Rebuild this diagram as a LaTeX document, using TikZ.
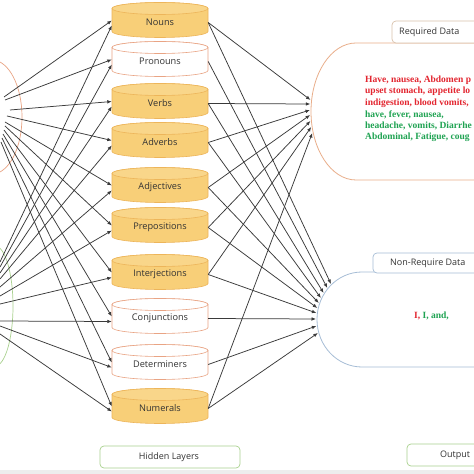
\documentclass[tikz,border=0pt]{standalone}
\usepackage{fontspec}
\newfontfamily\lblfont{Open Sans}
\newfontfamily\datfont{Liberation Serif}
\usetikzlibrary{arrows.meta}
\definecolor{cylfill}{HTML}{F8CF78}
\definecolor{cyltop}{HTML}{F9D68A}
\definecolor{cyledge}{HTML}{EDB55A}
\definecolor{salmon}{HTML}{E9A484}
\definecolor{reqedge}{HTML}{E9AE8A}
\definecolor{reqbox}{HTML}{D9C2AC}
\definecolor{nonedge}{HTML}{A6BDD6}
\definecolor{grn}{HTML}{A9D18E}
\definecolor{linec}{HTML}{3A3A3A}
\definecolor{txtred}{HTML}{E32630}
\definecolor{txtgrn}{HTML}{1FA352}
\definecolor{lbl}{HTML}{333333}
\tikzset{
  orangecyl/.style={fill=cylfill,draw=cyledge,line width=0.6pt},
  orangetop/.style={fill=cyltop,draw=cyledge,line width=0.6pt},
  whitecyl/.style={fill=white,draw=salmon,line width=0.6pt},
  cyllabel/.style={font=\lblfont\fontsize{9.2}{10}\selectfont,text=lbl,inner sep=0pt,minimum width=96pt,minimum height=26pt},
  boxlabel/.style={font=\lblfont\fontsize{9}{10}\selectfont,text=lbl,inner sep=0pt},
  datline/.style={font=\datfont\bfseries\fontsize{9.5}{11}\selectfont,inner sep=0pt,anchor=west},
  arr/.style={draw=linec,line width=0.75pt,-{Latex[length=4.5pt,width=3.6pt]}},
  labelbox/.style={fill=white,line width=0.7pt,rounded corners=4pt}
}
\newcommand\mycyl[5]{%
  \filldraw[#4] (112,474-#2+11.5) -- (112,474-#2-11.5)
     arc[start angle=180,end angle=360,x radius=48,y radius=6]
     -- (208,474-#2+11.5)
     arc[start angle=0,end angle=180,x radius=48,y radius=6] -- cycle;
  \filldraw[#5] (160,474-#2+11.5) ellipse[x radius=48,y radius=6];
  \node[cyllabel] (#1) at (160,474-#2-2.5) {#3};
}
\begin{document}
\begin{tikzpicture}[x=1pt,y=1pt]
\useasboundingbox (0,0) rectangle (474,474);
\clip (0,0) rectangle (474,474);
\fill[white] (0,0) rectangle (474,474);
\fill[black!7] (0,0) rectangle (474,3.5);

% left ellipses (input groups)
\draw[salmon,line width=0.7pt] (-8,474-117) ellipse[x radius=30,y radius=57];
\draw[grn,line width=0.7pt] (-5,474-306) ellipse[x radius=18,y radius=60];

% output shapes
\draw[reqedge,line width=0.8pt] (490,474-43) -- (356,474-43)
   arc[start angle=90,end angle=270,x radius=45,y radius=68.5] -- (490,474-180);
\draw[nonedge,line width=0.8pt] (490,474-272) -- (362,474-272)
   arc[start angle=90,end angle=270,x radius=45,y radius=47.5] -- (490,474-367);

% label boxes
\draw[labelbox,draw=reqbox] (392,474-43) rectangle (495,474-21);
\node[boxlabel,anchor=west] (reqlbl) at (399,474-32) {Required Data};
\draw[labelbox,draw=nonedge] (373,474-273) rectangle (495,474-253);
\node[boxlabel,anchor=west] (nonlbl) at (390,474-263) {Non-Require Data};
\draw[labelbox,draw=grn] (407,474-466) rectangle (495,474-444);
\node[boxlabel,anchor=west] (outlbl) at (440,474-455) {Output};
\draw[labelbox,draw=grn] (100,474-468) rectangle (240,474-446);
\node[boxlabel] (hidlbl) at (169,474-457) {Hidden Layers};

% data texts (as far as the picture shows them)
\node[datline,text=txtred] (t1) at (365,474-80) {Have, nausea, Abdomen p};
\node[datline,text=txtred] (t2) at (365,474-91.5) {upset stomach, appetite lo};
\node[datline,text=txtred] (t3) at (365,474-103) {indigestion, blood vomits,};
\node[datline,text=txtgrn] (t4) at (365,474-114.5) {have, fever, nausea,};
\node[datline,text=txtgrn] (t5) at (365,474-126) {headache, vomits, Diarrhe};
\node[datline,text=txtgrn] (t6) at (365,474-137.5) {Abdominal, Fatigue, coug};
\node[datline] (t7) at (414,474-316) {\textcolor{txtred}{I,} \textcolor{txtgrn}{I, and,}};

% cylinders
\mycyl{nouns}{20}{Nouns}{orangecyl}{orangetop}
\mycyl{pron}{59}{Pronouns}{whitecyl}{whitecyl}
\mycyl{verbs}{101}{Verbs}{orangecyl}{orangetop}
\mycyl{adv}{140}{Adverbs}{orangecyl}{orangetop}
\mycyl{adj}{185}{Adjectives}{orangecyl}{orangetop}
\mycyl{prep}{225}{Prepositions}{orangecyl}{orangetop}
\mycyl{interj}{272}{Interjections}{orangecyl}{orangetop}
\mycyl{conj}{316}{Conjunctions}{whitecyl}{whitecyl}
\mycyl{det}{362}{Determiners}{whitecyl}{whitecyl}
\mycyl{num}{406}{Numerals}{orangecyl}{orangetop}

% source coordinates
\coordinate (o1) at (4,474-97);
\coordinate (o2) at (5,474-100);
\coordinate (o3) at (10,474-110);
\coordinate (o4) at (7,474-116);
\coordinate (o5) at (5,474-122);
\coordinate (o6) at (5,474-126);
\coordinate (o7) at (4,474-130);
\coordinate (o8) at (3,474-134);
\coordinate (o9) at (2,474-138);
\coordinate (o10) at (1,474-142);
\coordinate (g1) at (0,474-262);
\coordinate (g2) at (0,474-267);
\coordinate (g3) at (0,474-273);
\coordinate (g4) at (0,474-279);
\coordinate (g5) at (0,474-287);
\coordinate (g6) at (0,474-296);
\coordinate (g7) at (0,474-304);
\coordinate (g8) at (0,474-321);
\coordinate (g9) at (0,474-326);
\coordinate (g10) at (0,474-334);
% target coordinates
\coordinate (r1) at (310.5,474-100);
\coordinate (r2) at (310.3,474-104);
\coordinate (r3) at (310,474-110);
\coordinate (r4) at (310.1,474-115);
\coordinate (r5) at (310.4,474-121);
\coordinate (r6) at (311.2,474-127);
\coordinate (r7) at (312.3,474-133);
\coordinate (n1) at (331,474-284);
\coordinate (n2) at (327.3,474-288);
\coordinate (n3) at (323.6,474-293);
\coordinate (n4) at (320.9,474-298);
\coordinate (n5) at (318.8,474-303);
\coordinate (n6) at (317.3,474-308);
\coordinate (n7) at (316.4,474-313);
\coordinate (n8) at (316,474-319);
\coordinate (n9) at (316.4,474-326);
\coordinate (n10) at (317.9,474-333);

% input connectors
\foreach \n/\o/\g in {nouns/o1/g1,pron/o2/g2,verbs/o3/g3,adv/o4/g4,adj/o5/g5,prep/o6/g6,interj/o7/g7,conj/o8/g8,det/o9/g9,num/o10/g10}{
  \draw[arr] (\o) -- ([yshift=2pt]\n.west);
  \draw[arr] (\g) -- ([yshift=-3pt]\n.west);
}
% output connectors
\foreach \n/\r in {nouns/r1,verbs/r2,adv/r3,adj/r4,prep/r5,interj/r6,num/r7}{
  \draw[arr] (\n.east) -- (\r);
}
\foreach \n/\t in {nouns/n1,pron/n2,verbs/n3,adv/n4,adj/n5,prep/n6,interj/n7,conj/n8,det/n9,num/n10}{
  \draw[arr] (\n.east) -- (\t);
}
\end{tikzpicture}
\end{document}
